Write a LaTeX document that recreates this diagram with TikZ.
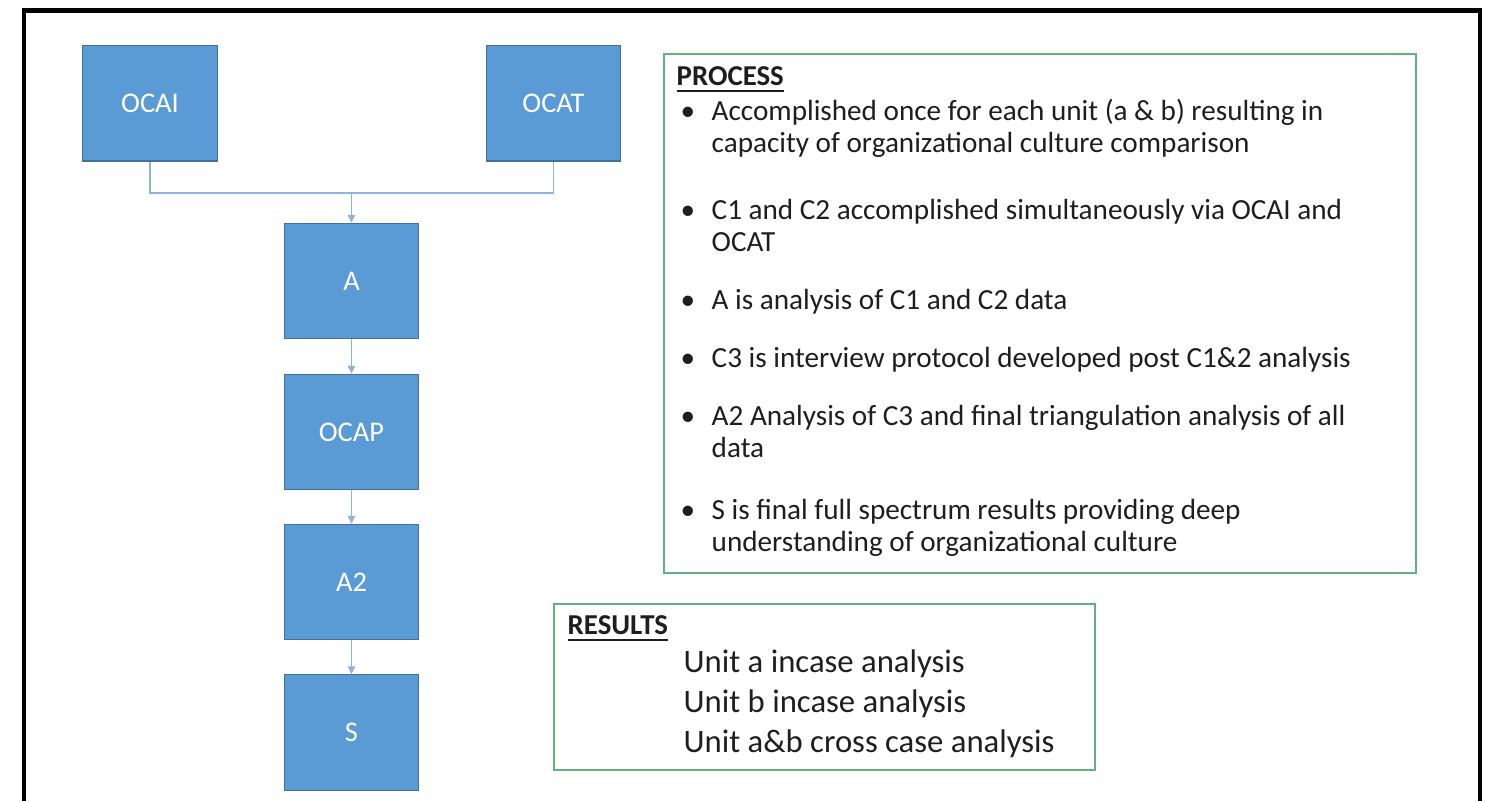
\documentclass[tikz,border=0pt]{standalone}
\usepackage{fontspec}
\setmainfont{Carlito}
\usetikzlibrary{arrows.meta}

\definecolor{boxblue}{RGB}{91,155,213}
\definecolor{boxedge}{RGB}{65,113,156}
\definecolor{linkblue}{RGB}{140,180,222}
\definecolor{framegreen}{RGB}{96,178,128}
\definecolor{textgray}{RGB}{30,30,30}

\tikzset{
  blockbox/.style={draw=boxedge, line width=0.3pt, fill=boxblue, text=white,
    minimum width=1.34cm, minimum height=1.15cm, inner sep=0pt,
    font=\fontsize{8.1}{9.7}\selectfont},
  link/.style={draw=linkblue, line width=0.55pt},
  arrowlink/.style={link, -{Triangle[length=0.08cm,width=0.07cm]}},
  greenbox/.style={draw=framegreen, line width=0.5pt, inner sep=0pt},
  itemtext/.style={anchor=base west, text=textgray, inner sep=0pt,
    font=\fontsize{8.3}{10}\selectfont},
  headtext/.style={itemtext, font=\fontsize{8.2}{10}\selectfont\bfseries},
  resulttext/.style={anchor=base west, text=textgray, inner sep=0pt,
    font=\fontsize{9.3}{11}\selectfont}
}

\begin{document}
\begin{tikzpicture}[x=0.01cm, y=-0.01cm]
    \useasboundingbox (0,0) rectangle (1503,801);

    % outer frame, open at the bottom
    \draw[line width=1.2pt] (24,801) -- (24,10.5) -- (1480,10.5) -- (1480,801);

    % left column of blocks
    \node[blockbox] (ocai) at (150,103.5) {OCAI};
    \node[blockbox] (ocat) at (553.5,103.5) {OCAT};
    \node[blockbox] (a) at (351.5,281) {A};
    \node[blockbox] (ocap) at (351.5,432) {OCAP};
    \node[blockbox] (atwo) at (351.5,582) {A2};
    \node[blockbox] (s) at (351.5,732.5) {S};

    % connectors
    \coordinate (join) at (351.5,193);
    \draw[link] (ocai.south) |- (join) -| (ocat.south);
    \draw[arrowlink] (join) -- (a.north);
    \draw[arrowlink] (a.south) -- (ocap.north);
    \draw[arrowlink] (ocap.south) -- (atwo.north);
    \draw[arrowlink] (atwo.south) -- (s.north);

    % process box
    \node[greenbox, anchor=north west, minimum width=7.52cm, minimum height=5.19cm] (process) at (663,53) {};
    \node[headtext] (processhead) at (676,86) {\underline{PROCESS}};
    \node[itemtext] (b1) at (680,121) {\textbullet};
    \node[itemtext] (p1) at (711,121) {Accomplished once for each unit (a \& b) resulting in};
    \node[itemtext] (p1b) at (711,153) {capacity of organizational culture comparison};
    \node[itemtext] (b2) at (680,220) {\textbullet};
    \node[itemtext] (p2) at (711,220) {C1 and C2 accomplished simultaneously via OCAI and};
    \node[itemtext] (p2b) at (711,252) {OCAT};
    \node[itemtext] (b3) at (680,310) {\textbullet};
    \node[itemtext] (p3) at (711,310) {A is analysis of C1 and C2 data};
    \node[itemtext] (b4) at (680,368) {\textbullet};
    \node[itemtext] (p4) at (711,368) {C3 is interview protocol developed post C1\&2 analysis};
    \node[itemtext] (b5) at (680,426) {\textbullet};
    \node[itemtext] (p5) at (711,426) {A2 Analysis of C3 and final triangulation analysis of all};
    \node[itemtext] (p5b) at (711,458) {data};
    \node[itemtext] (b6) at (680,520) {\textbullet};
    \node[itemtext] (p6) at (711,520) {S is final full spectrum results providing deep};
    \node[itemtext] (p6b) at (711,552) {understanding of organizational culture};

    % results box
    \node[greenbox, anchor=north west, minimum width=5.41cm, minimum height=1.66cm] (results) at (553,603) {};
    \node[headtext] (resultshead) at (567,635) {\underline{RESULTS}};
    \node[resulttext] (r1) at (683,673) {Unit a incase analysis};
    \node[resulttext] (r2) at (683,713) {Unit b incase analysis};
    \node[resulttext] (r3) at (683,753) {Unit a\&b cross case analysis};
\end{tikzpicture}
\end{document}
